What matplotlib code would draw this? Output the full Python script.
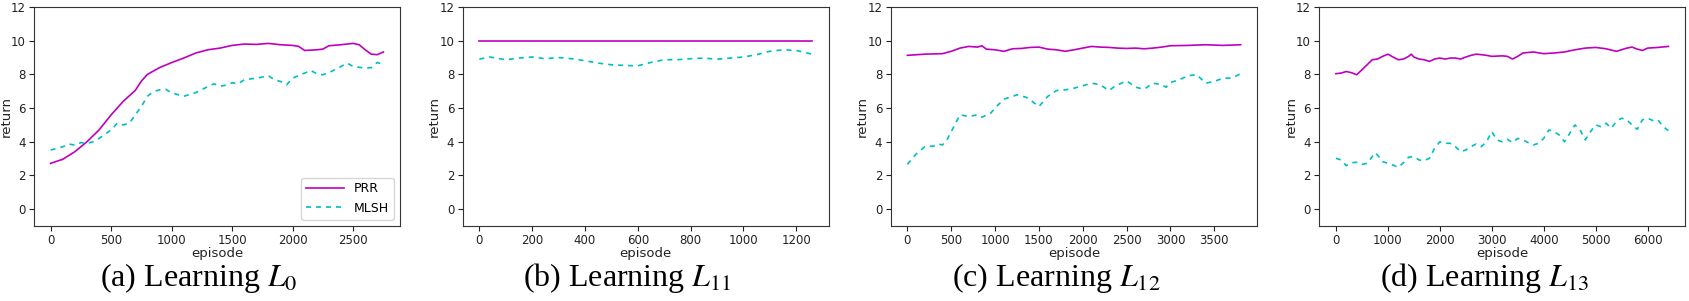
import matplotlib
matplotlib.use("Agg")
import matplotlib.pyplot as plt

plt.rcParams['mathtext.fontset'] = 'stix'

# ---------------- data ----------------
# (a) Learning L0
a_x_prr = [0, 100, 200, 300, 400, 500, 600, 700, 750, 800, 900, 1000, 1100, 1200, 1300, 1400,
           1500, 1600, 1700, 1800, 1900, 2000, 2050, 2100, 2200, 2250, 2300, 2400, 2500, 2550,
           2600, 2650, 2700, 2750]
a_y_prr = [2.72, 2.96, 3.41, 4.0, 4.7, 5.6, 6.4, 7.05, 7.6, 8.0, 8.4, 8.7, 8.97, 9.27, 9.46, 9.56,
           9.72, 9.8, 9.78, 9.84, 9.76, 9.72, 9.66, 9.42, 9.46, 9.5, 9.7, 9.76, 9.84, 9.76,
           9.46, 9.2, 9.17, 9.33]
a_x_mlsh = [0, 100, 150, 200, 250, 300, 350, 400, 500, 550, 600, 650, 700, 750, 800, 850, 900,
            950, 1000, 1100, 1200, 1300, 1350, 1400, 1450, 1500, 1550, 1600, 1700, 1750, 1800,
            1850, 1900, 1950, 2000, 2100, 2150, 2200, 2250, 2300, 2400, 2450, 2500, 2600, 2650,
            2700, 2750]
a_y_mlsh = [3.51, 3.7, 3.87, 3.8, 3.95, 3.9, 4.0, 4.2, 4.7, 5.1, 5.0, 5.1, 5.6, 6.1, 6.7, 6.98,
            7.08, 7.12, 6.9, 6.7, 6.92, 7.28, 7.44, 7.3, 7.36, 7.5, 7.44, 7.68, 7.78, 7.84, 7.92,
            7.68, 7.58, 7.38, 7.78, 8.08, 8.23, 8.04, 7.98, 8.1, 8.47, 8.67, 8.47, 8.37, 8.4,
            8.71, 8.57]

# (b) Learning L11
b_x_prr = [0, 1260]
b_y_prr = [10.0, 10.0]
b_x_mlsh = [0, 40, 100, 150, 200, 250, 300, 350, 400, 450, 500, 550, 600, 650, 700, 750, 800,
            850, 900, 950, 1000, 1050, 1100, 1150, 1200, 1260]
b_y_mlsh = [8.91, 9.03, 8.87, 8.97, 9.03, 8.93, 9.0, 8.93, 8.81, 8.67, 8.57, 8.53, 8.51, 8.71,
            8.87, 8.87, 8.93, 8.97, 8.9, 8.97, 9.03, 9.17, 9.37, 9.46, 9.42, 9.2]

# (c) Learning L12
c_x_prr = [0, 200, 400, 500, 600, 700, 800, 850, 900, 1000, 1100, 1200, 1300, 1400, 1500, 1600,
           1700, 1800, 1900, 2000, 2100, 2200, 2300, 2400, 2500, 2600, 2700, 2800, 2900, 3000,
           3200, 3400, 3600, 3800]
c_y_prr = [9.13, 9.2, 9.23, 9.37, 9.56, 9.66, 9.62, 9.7, 9.5, 9.46, 9.37, 9.52, 9.54, 9.6, 9.62,
           9.5, 9.46, 9.37, 9.46, 9.56, 9.66, 9.62, 9.6, 9.56, 9.54, 9.56, 9.52, 9.56, 9.62, 9.7,
           9.72, 9.76, 9.72, 9.76]
c_x_mlsh = [0, 50, 100, 200, 300, 350, 400, 450, 500, 550, 600, 700, 800, 850, 950, 1000, 1100,
            1200, 1250, 1350, 1400, 1500, 1600, 1700, 1800, 1900, 2000, 2100, 2200, 2300, 2350,
            2400, 2500, 2600, 2700, 2800, 2900, 2950, 3000, 3100, 3200, 3300, 3400, 3500, 3600,
            3700, 3800]
c_y_mlsh = [2.66, 2.96, 3.27, 3.71, 3.75, 3.87, 3.81, 4.1, 4.6, 5.1, 5.6, 5.5, 5.6, 5.46, 5.7,
            6.0, 6.53, 6.69, 6.79, 6.65, 6.49, 6.09, 6.69, 7.04, 7.08, 7.18, 7.32, 7.48, 7.38,
            7.04, 7.24, 7.38, 7.62, 7.24, 7.12, 7.48, 7.38, 7.24, 7.52, 7.68, 7.92, 7.98, 7.48,
            7.58, 7.78, 7.78, 8.04]

# (d) Learning L13
d_x_prr = [0, 100, 200, 300, 400, 500, 600, 700, 800, 900, 1000, 1100, 1200, 1300, 1400, 1450,
           1500, 1600, 1700, 1800, 1900, 2000, 2100, 2200, 2300, 2400, 2500, 2600, 2700, 2800,
           2900, 3000, 3200, 3300, 3400, 3500, 3600, 3800, 4000, 4200, 4400, 4600, 4800, 5000,
           5200, 5400, 5600, 5700, 5800, 5900, 6000, 6200, 6400]
d_y_prr = [8.04, 8.08, 8.17, 8.1, 7.98, 8.27, 8.57, 8.87, 8.91, 9.07, 9.2, 9.03, 8.87, 8.91,
           9.07, 9.2, 9.03, 8.91, 8.87, 8.77, 8.91, 8.97, 8.91, 8.97, 8.97, 8.91, 9.03, 9.13,
           9.2, 9.17, 9.13, 9.07, 9.1, 9.07, 8.91, 9.07, 9.27, 9.33, 9.23, 9.27, 9.33, 9.46,
           9.56, 9.6, 9.52, 9.37, 9.56, 9.62, 9.5, 9.42, 9.56, 9.6, 9.66]
d_x_mlsh = [0, 100, 200, 300, 400, 500, 600, 700, 750, 800, 900, 1000, 1100, 1200, 1300, 1400,
            1500, 1600, 1700, 1800, 1900, 2000, 2100, 2200, 2300, 2400, 2500, 2600, 2700, 2800,
            2900, 3000, 3100, 3200, 3300, 3400, 3500, 3600, 3700, 3800, 3900, 4000, 4100, 4200,
            4300, 4400, 4500, 4600, 4700, 4800, 4900, 5000, 5100, 5200, 5300, 5400, 5500, 5600,
            5700, 5800, 5900, 6000, 6100, 6200, 6300, 6400]
d_y_mlsh = [3.02, 2.92, 2.58, 2.76, 2.78, 2.66, 2.72, 3.12, 3.35, 3.21, 2.82, 2.72, 2.62, 2.48,
            2.76, 3.08, 3.12, 2.92, 2.88, 3.02, 3.61, 4.0, 3.91, 3.91, 3.71, 3.41, 3.51, 3.71,
            3.87, 3.71, 4.0, 4.6, 4.11, 4.0, 4.15, 3.95, 4.2, 4.11, 3.95, 3.81, 3.91, 4.2, 4.7,
            4.6, 4.4, 4.0, 4.5, 5.0, 4.7, 4.11, 4.6, 5.0, 4.9, 5.1, 4.8, 5.2, 5.4, 5.3, 5.0,
            4.74, 5.3, 5.4, 5.26, 5.3, 4.9, 4.66]

panels = [
    (a_x_prr, a_y_prr, a_x_mlsh, a_y_mlsh, "(a) Learning $L_{0}$", [0, 500, 1000, 1500, 2000, 2500]),
    (b_x_prr, b_y_prr, b_x_mlsh, b_y_mlsh, "(b) Learning $L_{11}$", [0, 200, 400, 600, 800, 1000, 1200]),
    (c_x_prr, c_y_prr, c_x_mlsh, c_y_mlsh, "(c) Learning $L_{12}$", [0, 500, 1000, 1500, 2000, 2500, 3000, 3500]),
    (d_x_prr, d_y_prr, d_x_mlsh, d_y_mlsh, "(d) Learning $L_{13}$", [0, 1000, 2000, 3000, 4000, 5000, 6000]),
]
yticks = [0, 2, 4, 6, 8, 10, 12]

# ---------------- layout ----------------
W, H = 1689, 301
fig = plt.figure(figsize=(W / 100, H / 100), dpi=100)
axes_px = [(34, 400), (462.7, 828.7), (890.7, 1257.3), (1319.3, 1685)]
caption_cx = [199, 627, 1056, 1485]
top_px, bot_px = 7, 226

for i, (xp, yp, xm, ym, cap, xt) in enumerate(panels):
    l, r = axes_px[i]
    ax = fig.add_axes([l / W, 1 - bot_px / H, (r - l) / W, (bot_px - top_px) / H])
    ax.plot(xp, yp, color='m', lw=1.2, label='PRR')
    ax.plot(xm, ym, color='c', lw=1.2, ls=(0, (3, 3)), label='MLSH')
    ax.set_ylim(-1, 12)
    ax.set_yticks(yticks)
    ax.set_xticks(xt)
    ax.tick_params(labelsize=8.5, length=3.5, width=0.8, pad=2.5, colors='#222222', labelcolor='#222222')
    for s in ax.spines.values():
        s.set_linewidth(0.8)
        s.set_color('#333333')
    ax.set_xlabel('episode', fontsize=9.5, labelpad=0, color='#222222')
    ax.set_ylabel('return', fontsize=9.5, color='#222222')
    ax.yaxis.set_label_coords(-21.5 / (r - l), 0.5)
    if i == 0:
        ax.legend(loc='lower right', fontsize=9, handlelength=3)
    fig.text(caption_cx[i] / W, 1 - 286 / H, cap, ha='center', va='baseline',
             fontsize=23, family='Liberation Serif')

fig.savefig('out.png', dpi=100)
